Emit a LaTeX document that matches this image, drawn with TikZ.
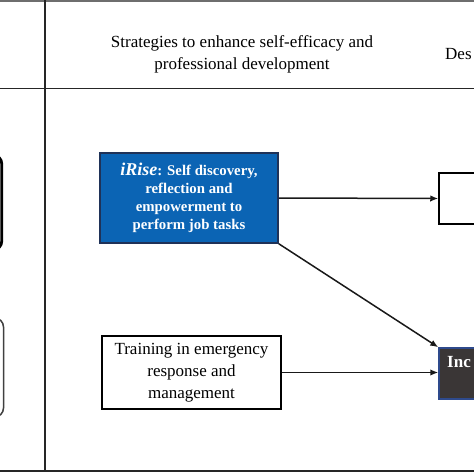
\documentclass[tikz,border=0pt]{standalone}
\usepackage{fontspec}
\setmainfont{Liberation Serif}
\usetikzlibrary{arrows.meta}
\definecolor{boxblue}{HTML}{0B64B4}
\definecolor{navyedge}{HTML}{1F3258}
\definecolor{darkfill}{HTML}{3A3636}
\definecolor{darkedge}{HTML}{2E4A8C}
\definecolor{topgray}{HTML}{6E6E6E}
\begin{document}
\begin{tikzpicture}[x=1pt,y=-1pt,
  rule/.style={line width=1.8pt, black!85},
  plainbox/.style={draw=black, line width=1.5pt, fill=white, inner sep=0pt, align=center},
  bluebox/.style={draw=navyedge, line width=1.5pt, fill=boxblue, text=white, inner sep=0pt, align=center,
     font=\fontsize{14.8}{18}\selectfont\bfseries},
  darkbox/.style={draw=darkedge, line width=1.5pt, fill=darkfill, inner sep=0pt},
  conn/.style={line width=1.5pt, black!90, -{Latex[length=8pt,width=6.5pt]}},
  lbl/.style={font=\fontsize{17}{22}\selectfont, align=center, inner sep=0pt}]
\useasboundingbox (0,0) rectangle (474,474);
\clip (0,0) rectangle (474,474);
\fill[white] (0,0) rectangle (474,474);
% table rules
\draw[line width=2.8pt, topgray] (0,1) -- (474,1);
\draw[rule] (0,88.5) -- (474,88.5);
\draw[line width=2.2pt, black!85] (0,471) -- (474,471);
\draw[rule] (45,0) -- (45,471);
% header texts
\node[lbl] (h1) at (242,54) {Strategies to enhance self-efficacy and\\professional development};
\node[lbl, anchor=west] (h2) at (445,54) {Des};
% left column boxes (cut at edge)
\draw[rounded corners=9pt, line width=2.8pt, black] (-60,155) rectangle (1.8,250);
\draw[rounded corners=9pt, line width=1.5pt, black!75] (-60,318) rectangle (3.5,417);
% middle boxes
\node[bluebox, minimum width=178pt, minimum height=90pt] (irise) at (189,198)
  {{\fontsize{18}{18}\selectfont\itshape iRise}: Self discovery,\\reflection and\\empowerment to\\perform job tasks};
\node[plainbox, lbl, minimum width=179pt, minimum height=73pt] (train) at (191.5,372.5)
  {Training in emergency\\response and\\management};
% right boxes (cut at edge)
\node[plainbox, minimum width=81pt, minimum height=51pt] (out1) at (479.5,198.5) {};
\node[darkbox, minimum width=81pt, minimum height=51pt] (out2) at (479.5,373.5) {};
\node[anchor=west, text=white, inner sep=0pt, font=\fontsize{17}{20}\selectfont\bfseries] (inc) at (447,362) {Inc};
% connectors
\draw[conn] (irise.east) -- (out1.west);
\draw[conn] (irise.south east) -- (out2.north west);
\draw[conn] (train.east) -- (out2.west |- train.east);
\end{tikzpicture}
\end{document}
